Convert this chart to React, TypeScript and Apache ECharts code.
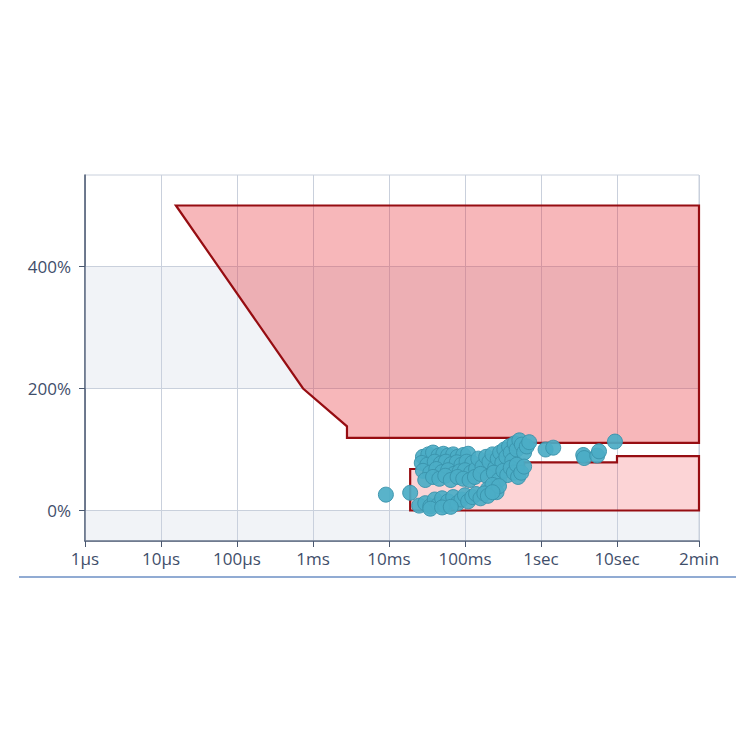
import React, { useEffect, useRef } from "react";
import * as echarts from "echarts";

// X axis ticks (seconds) and their labels
const tickSeconds = [1e-6, 1e-5, 1e-4, 1e-3, 1e-2, 1e-1, 1, 10, 120];
const tickLabels = ["1µs", "10µs", "100µs", "1ms", "10ms", "100ms", "1sec", "10sec", "2min"];

// Y axis (percent)
const yTicks = [0, 200, 400];
const yMin = -50;
const yMax = 550;
const bandRanges = [
  [-50, 0],
  [200, 400],
];

// Zones: [seconds, percent]
const upperZone = [
  [1.57e-5, 500],
  [120, 500],
  [120, 111],
  [0.48, 111],
  [0.48, 119],
  [2.8e-3, 119],
  [2.8e-3, 138],
  [7.4e-4, 200],
];
const lowerZone = [
  [0.019, 0],
  [0.019, 68],
  [0.6, 68],
  [0.6, 79],
  [10, 79],
  [10, 89],
  [120, 89],
  [120, 0],
];

// Measurements: [milliseconds, percent]
const measurements = [
  [9.1, 26], [19, 29],
  [28, 88], [33, 92], [38, 95], [45, 90], [52, 93], [60, 90], [70, 92], [80, 88], [95, 91], [110, 93],
  [27, 78], [32, 75], [40, 80], [48, 77], [56, 80], [66, 76], [78, 79], [90, 75], [105, 80], [125, 78],
  [28, 65], [35, 62], [42, 68], [50, 63], [60, 66], [72, 60], [85, 64], [100, 66], [120, 62], [140, 68],
  [30, 50], [38, 55], [46, 52], [55, 57], [65, 50], [80, 55], [95, 52], [115, 50], [135, 55],
  [150, 85], [170, 72], [190, 88], [210, 80], [230, 92], [250, 70], [270, 85], [290, 95], [310, 78],
  [330, 100], [350, 88], [380, 105], [400, 95], [420, 82], [450, 110], [480, 100], [520, 115],
  [560, 108], [600, 95], [650, 105], [700, 112],
  [160, 60], [200, 55], [240, 62], [280, 50], [320, 65], [360, 58], [400, 70], [440, 62], [480, 75],
  [500, 55], [550, 62], [600, 72],
  [200, 35], [230, 42], [260, 30], [280, 40],
  [25, 8], [30, 12], [35, 7], [40, 18], [45, 10], [50, 20], [55, 8], [60, 15], [70, 22], [80, 12],
  [90, 18], [100, 25], [110, 15], [125, 22], [140, 27], [160, 20], [180, 28], [200, 24], [230, 30],
  [35, 3], [50, 5], [65, 6],
  [1150, 100], [1450, 103], [3600, 91], [3700, 86], [5500, 90], [5800, 97], [9400, 113],
];

const FONT = "Open Sans";
const LABEL_COLOR = "#3f4e6a";
const AXIS_COLOR = "#4a5870";
const GRID_COLOR = "#c9d0dc";

export default function App() {
  const ref = useRef<HTMLDivElement>(null);

  useEffect(() => {
    if (!ref.current) return;
    const chart = echarts.init(ref.current, null, { renderer: "svg" });
    const tickLogs = tickSeconds.map((s) => Math.log10(s));
    const zones = [upperZone, lowerZone];
    const zoneFills = ["rgba(232,35,45,0.33)", "rgba(240,40,50,0.2)"];

    const labelFor = (v: number) => {
      let best = 0;
      for (let i = 0; i < tickLogs.length; i++) {
        if (Math.abs(tickLogs[i] - v) < Math.abs(tickLogs[best] - v)) best = i;
      }
      return tickLabels[best];
    };

    chart.setOption({
      animation: false,
      backgroundColor: "#ffffff",
      grid: {
        left: 85,
        right: 51,
        top: 175,
        bottom: 209,
        show: true,
        borderColor: GRID_COLOR,
        borderWidth: 1,
        backgroundColor: "transparent",
      },
      xAxis: {
        type: "value",
        min: tickLogs[0],
        max: tickLogs[tickLogs.length - 1],
        axisLine: { show: true, onZero: false, lineStyle: { color: AXIS_COLOR, width: 1.5 } },
        axisTick: { show: true, length: 6, customValues: tickLogs, lineStyle: { color: AXIS_COLOR } },
        axisLabel: {
          customValues: tickLogs,
          formatter: (v: number) => labelFor(v),
          color: LABEL_COLOR,
          fontFamily: FONT,
          fontSize: 17,
          margin: 9,
        },
        splitLine: { show: true, lineStyle: { color: GRID_COLOR, width: 1 } },
      },
      yAxis: {
        type: "value",
        min: yMin,
        max: yMax,
        axisLine: { show: true, onZero: false, lineStyle: { color: AXIS_COLOR, width: 1.5 } },
        axisTick: { show: true, length: 6, customValues: yTicks, lineStyle: { color: AXIS_COLOR } },
        axisLabel: {
          customValues: yTicks,
          formatter: "{value}%",
          color: LABEL_COLOR,
          fontFamily: FONT,
          fontSize: 17,
          margin: 14,
        },
        splitLine: { show: true, lineStyle: { color: GRID_COLOR, width: 1 } },
      },
      series: [
        {
          type: "line",
          data: [],
          z: 1,
          silent: true,
          markArea: {
            silent: true,
            itemStyle: { color: "rgba(200,210,225,0.26)" },
            data: bandRanges.map(([a, b]) => [{ yAxis: a }, { yAxis: b }]),
          },
        },
        {
          type: "custom",
          z: 2,
          silent: true,
          data: zones.map((_, i) => [tickLogs[0], i]),
          renderItem: (params: any, api: any) => {
            const idx = params.dataIndex;
            const pts = zones[idx].map(([s, p]) => api.coord([Math.log10(s), p]));
            return {
              type: "polygon",
              shape: { points: pts },
              style: {
                fill: zoneFills[idx],
                stroke: "#960d12",
                lineWidth: 2.2,
                lineJoin: "miter",
              },
            };
          },
        },
        {
          type: "scatter",
          z: 3,
          symbolSize: 15,
          data: measurements.map(([ms, p]) => [Math.log10(ms / 1000), p]),
          itemStyle: {
            color: "#4bacc6",
            borderColor: "#3a92ab",
            borderWidth: 1,
            opacity: 0.92,
          },
        },
      ],
      graphic: [
        {
          type: "line",
          shape: { x1: 19, y1: 577, x2: 736, y2: 577 },
          style: { stroke: "#6d8fc4", lineWidth: 1.5 },
          silent: true,
        },
      ],
    });

    return () => chart.dispose();
  }, []);

  return <div ref={ref} style={{ width: 750, height: 750, margin: -8 }} />;
}
